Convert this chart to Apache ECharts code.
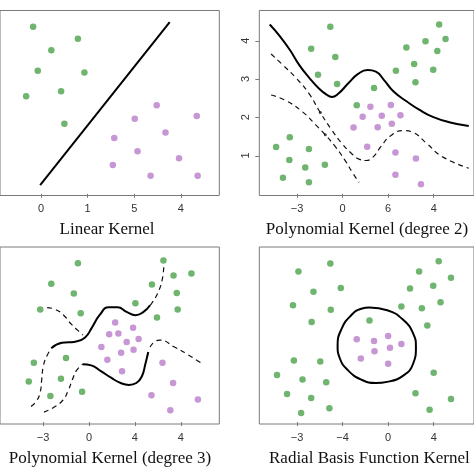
<!DOCTYPE html>
<html>
<head>
<meta charset="utf-8">
<script src="https://cdn.jsdelivr.net/npm/echarts@6/dist/echarts.min.js"></script>
<style>
  html, body { margin: 0; padding: 0; background: #fff; }
  #chart { width: 474px; height: 474px; }
</style>
</head>
<body>
<div id="chart"></div>
<script>
// tick labels (as printed in the picture)
const xLabels1 = ['0', '1', '5', '4']
const xLabels2 = ['−3', '0', '6', '4']
const xLabels3 = ['−3', '0', '4', '4']
const xLabels4 = ['−3', '−4', '0', '4']
const yTicks2 = [1, 2, 3, 4]
const titles = ['Linear Kernel', 'Polynomial Kernel (degree 2)', 'Polynomial Kernel (degree 3)', 'Radial Basis Function Kernel']

// panel 1 : linear
const green1 = [[-0.17, 4.36], [0.79, 4.05], [0.22, 3.75], [-0.07, 3.21], [0.93, 3.17], [0.43, 2.68], [-0.32, 2.55], [0.50, 1.83]]
const purple1 = [[2.48, 2.31], [2.01, 1.96], [3.34, 2.03], [2.67, 1.60], [1.57, 1.46], [2.07, 1.11], [2.96, 0.93], [1.54, 0.75], [2.35, 0.47], [3.36, 0.47]]
const line1 = [[-0.02, 0.23], [2.76, 4.48]]

// panel 2 : polynomial degree 2
const green2 = [[0.73, 4.36], [0.31, 3.79], [0.84, 3.57], [0.46, 3.11], [0.88, 2.87], [1.69, 2.76], [1.31, 2.31],
  [3.12, 4.42], [3.26, 4.04], [2.82, 3.98], [2.40, 3.82], [3.08, 3.73], [2.57, 3.39], [2.17, 3.21], [2.99, 3.24], [2.60, 2.91],
  [-0.16, 1.48], [-0.46, 1.22], [0.26, 1.17], [-0.17, 0.88], [0.18, 0.69], [0.61, 0.76], [-0.31, 0.42], [0.26, 0.30]]
const purple2 = [[1.61, 2.27], [1.44, 2.01], [1.24, 1.73], [1.86, 2.04], [2.06, 2.32], [2.27, 2.05], [1.77, 1.74], [2.08, 1.83],
  [1.54, 1.23], [2.16, 1.08], [2.61, 0.92], [2.16, 0.50], [2.72, 0.25]]
const marks2 = [[0.51, 2.12], [0.62, 1.54]]
const solid2 = [[-0.60, 4.42], [-0.38, 4.12], [-0.16, 3.76], [0.05, 3.36], [0.26, 3.04], [0.48, 2.75], [0.66, 2.58], [0.76, 2.53],
  [0.91, 2.62], [1.12, 2.88], [1.34, 3.13], [1.55, 3.23], [1.73, 3.19], [1.91, 2.97], [2.12, 2.67], [2.41, 2.41], [2.69, 2.19],
  [2.98, 2.01], [3.34, 1.87], [3.77, 1.77]]
const dashA2 = [[-0.57, 3.65], [-0.31, 3.36], [-0.02, 3.02], [0.26, 2.62], [0.51, 2.12], [0.76, 1.67], [0.98, 1.32], [1.19, 1.06],
  [1.37, 0.90], [1.51, 0.87], [1.66, 0.95], [1.84, 1.23], [2.05, 1.51], [2.34, 1.65], [2.55, 1.60], [2.84, 1.32], [3.19, 0.97], [3.77, 0.67]]
const dashB2 = [[-0.57, 2.58], [-0.24, 2.43], [0.12, 2.14], [0.41, 1.80], [0.62, 1.54], [0.84, 1.23], [1.05, 0.88], [1.23, 0.53], [1.36, 0.30]]

// panel 3 : polynomial degree 3
const green3 = [[0.76, 4.15], [0.18, 3.61], [0.67, 3.36], [-0.06, 2.94], [0.82, 2.84], [2.62, 4.22], [2.84, 3.83], [3.23, 3.88],
  [2.37, 3.59], [2.91, 3.37], [2.01, 3.10], [2.93, 2.94], [2.48, 2.73], [-0.20, 1.55], [0.50, 1.67], [-0.31, 1.06], [0.39, 1.13],
  [0.16, 0.68], [0.85, 0.79]]
const purple3 = [[1.57, 2.60], [1.96, 2.46], [1.44, 2.29], [1.64, 2.31], [2.08, 2.17], [1.82, 2.09], [1.27, 1.96], [1.97, 1.89],
  [1.70, 1.81], [1.40, 1.63], [1.72, 1.33], [2.60, 1.55], [2.83, 1.02], [2.36, 0.70], [3.37, 0.59], [2.77, 0.31]]
const solidA3 = [[0.18, 1.93], [0.41, 2.07], [0.70, 2.10], [0.91, 2.20], [1.07, 2.48], [1.23, 2.79], [1.43, 3.00], [1.62, 3.00],
  [1.83, 2.87], [2.01, 2.79], [2.18, 2.87], [2.33, 3.05]]
const solidB3 = [[0.86, 1.51], [1.05, 1.48], [1.26, 1.33], [1.48, 1.16], [1.69, 1.02], [1.87, 0.97], [2.03, 1.02], [2.15, 1.19],
  [2.23, 1.53], [2.29, 1.83]]
const dashTR3 = [[2.33, 3.05], [2.36, 3.09], [2.49, 3.35], [2.59, 3.70], [2.63, 4.09]]
const dashR3 = [[2.33, 1.96], [2.42, 2.09], [2.54, 2.14], [2.86, 1.96], [3.14, 1.77], [3.43, 1.55]]
const dashL3 = [[-0.26, 0.41], [-0.14, 0.55], [-0.06, 0.79], [-0.03, 1.09], [0.01, 1.48], [0.09, 1.74], [0.18, 1.92]]
const dashB3 = [[0.02, 0.26], [0.23, 0.38], [0.43, 0.57], [0.55, 0.83], [0.64, 1.11], [0.73, 1.35], [0.86, 1.51]]
const dashTL3 = [[0.09, 2.99], [0.27, 2.94], [0.45, 2.79], [0.62, 2.55], [0.77, 2.38], [0.87, 2.27]]

// panel 4 : radial basis function
const green4 = [[0.73, 4.14], [0.03, 3.93], [0.36, 3.40], [0.96, 3.50], [-0.09, 3.05], [0.74, 2.93], [0.32, 2.61], [1.59, 2.65],
  [3.11, 4.20], [2.68, 3.93], [3.38, 3.77], [2.48, 3.49], [2.99, 3.56], [2.29, 3.02], [2.74, 2.97], [3.15, 3.13], [2.86, 2.52],
  [-0.07, 1.61], [0.51, 1.58], [-0.44, 1.23], [0.12, 1.11], [0.64, 1.04], [-0.22, 0.73], [0.31, 0.63], [0.09, 0.24], [0.71, 0.36],
  [3.00, 1.29], [2.60, 0.75], [3.38, 0.60], [2.91, 0.32]]
const purple4 = [[1.31, 2.16], [1.69, 2.12], [2.00, 2.25], [2.04, 1.94], [2.29, 2.04], [1.70, 1.85], [1.40, 1.66], [2.00, 1.52]]
const ring4 = [[1.59, 2.99], [1.98, 2.92], [2.34, 2.66], [2.55, 2.31], [2.61, 1.96], [2.55, 1.53], [2.34, 1.22], [1.98, 1.05],
  [1.73, 1.02], [1.41, 1.11], [1.12, 1.35], [0.94, 1.66], [0.89, 2.00], [0.98, 2.44], [1.19, 2.79], [1.41, 2.96], [1.59, 2.99]]

const GREEN = '#4ba34b'
const PURPLE = '#b97cc9'
const FRAME = '#7a7a7a'
const TITLE_FONT = '17px "Liberation Serif", serif'
const TICK_FONT = '11px "Liberation Sans", Arial, sans-serif'

const grids = [
  { left: -5, top: 10.5, width: 224.3, height: 185, xmin: -0.881, xmax: 3.824, ymin: -0.044, ymax: 4.786, xl: xLabels1 },
  { left: 259.3, top: 10.5, width: 220, height: 185, xmin: -0.829, xmax: 3.885, ymin: -0.044, ymax: 4.786, xl: xLabels2 },
  { left: -5, top: 247, width: 224.3, height: 177, xmin: -0.936, xmax: 3.836, ymin: -0.05, ymax: 4.571, xl: xLabels3 },
  { left: 259.3, top: 247, width: 220, height: 177, xmin: -0.829, xmax: 3.885, ymin: -0.05, ymax: 4.571, xl: xLabels4 },
]

let option = {
  animation: false,
  grid: grids.map(g => ({
    left: g.left, top: g.top, width: g.width, height: g.height,
    show: true, borderColor: FRAME, borderWidth: 1, backgroundColor: '#fff',
  })),
  xAxis: grids.map((g, i) => ({
    type: 'value', gridIndex: i, min: g.xmin, max: g.xmax,
    axisLine: { show: false },
    splitLine: { show: false },
    axisTick: { show: true, customValues: [0, 1, 2, 3], length: 4, lineStyle: { color: FRAME } },
    axisLabel: {
      customValues: [0, 1, 2, 3], margin: 8, color: '#333', fontSize: 11,
      fontFamily: 'Liberation Sans, Arial, sans-serif',
      formatter: v => g.xl[Math.round(v)],
    },
  })),
  yAxis: grids.map((g, i) => ({
    type: 'value', gridIndex: i, min: g.ymin, max: g.ymax,
    axisLine: { show: false },
    splitLine: { show: false },
    axisTick: { show: false },
    axisLabel: { show: false },
  })),
  graphic: [
    { type: 'text', x: 107, y: 230, style: { text: titles[0], font: TITLE_FONT, fill: '#111', align: 'center', verticalAlign: 'middle' } },
    { type: 'text', x: 367, y: 230, style: { text: titles[1], font: TITLE_FONT, fill: '#111', align: 'center', verticalAlign: 'middle' } },
    { type: 'text', x: 110, y: 459, style: { text: titles[2], font: TITLE_FONT, fill: '#111', align: 'center', verticalAlign: 'middle' } },
    { type: 'text', x: 269, y: 459, style: { text: titles[3], font: TITLE_FONT, fill: '#111', align: 'left', verticalAlign: 'middle' } },
  ],
  series: [],
}

function dots(data, color, i, size) {
  return { type: 'scatter', xAxisIndex: i, yAxisIndex: i, data: data, symbolSize: size || 6.5, itemStyle: { color: color }, z: 3 }
}
function curve(data, i, dashed) {
  return {
    type: 'line', xAxisIndex: i, yAxisIndex: i, data: data, smooth: true, showSymbol: false,
    lineStyle: dashed ? { color: '#111', width: 1.2, type: [5, 4] } : { color: '#000', width: 2 },
    z: 2,
  }
}

option.series.push(
  curve(line1, 0, false), dots(green1, GREEN, 0), dots(purple1, PURPLE, 0),
  curve(solid2, 1, false), curve(dashA2, 1, true), curve(dashB2, 1, true), dots(green2, GREEN, 1), dots(purple2, PURPLE, 1),
  dots(marks2, '#111', 1, 3),
  curve(solidA3, 2, false), curve(solidB3, 2, false), curve(dashTR3, 2, true), curve(dashR3, 2, true),
  curve(dashL3, 2, true), curve(dashB3, 2, true), curve(dashTL3, 2, true), dots(green3, GREEN, 2), dots(purple3, PURPLE, 2),
  curve(ring4, 3, false), dots(green4, GREEN, 3), dots(purple4, PURPLE, 3)
)

let mychart = echarts.init(document.getElementById('chart'))
mychart.setOption(option)

// y ticks and rotated labels of panel 2, placed through the axis scale
let yAxisEls = []
yTicks2.forEach(v => {
  let p = mychart.convertToPixel({ gridIndex: 1 }, [grids[1].xmin, v])
  let y = Math.round(p[1]) + 0.5
  yAxisEls.push({
    type: 'line', shape: { x1: p[0] - 4, y1: y, x2: p[0], y2: y },
    style: { stroke: FRAME, lineWidth: 1 },
  })
  yAxisEls.push({
    type: 'text', x: p[0] - 13, y: p[1], rotation: Math.PI / 2,
    style: { text: String(v), font: TICK_FONT, fill: '#333', align: 'center', verticalAlign: 'middle' },
  })
})
mychart.setOption({ graphic: option.graphic.concat(yAxisEls) })

window.addEventListener('resize', function () {
  mychart.resize()
})
</script>
</body>
</html>
